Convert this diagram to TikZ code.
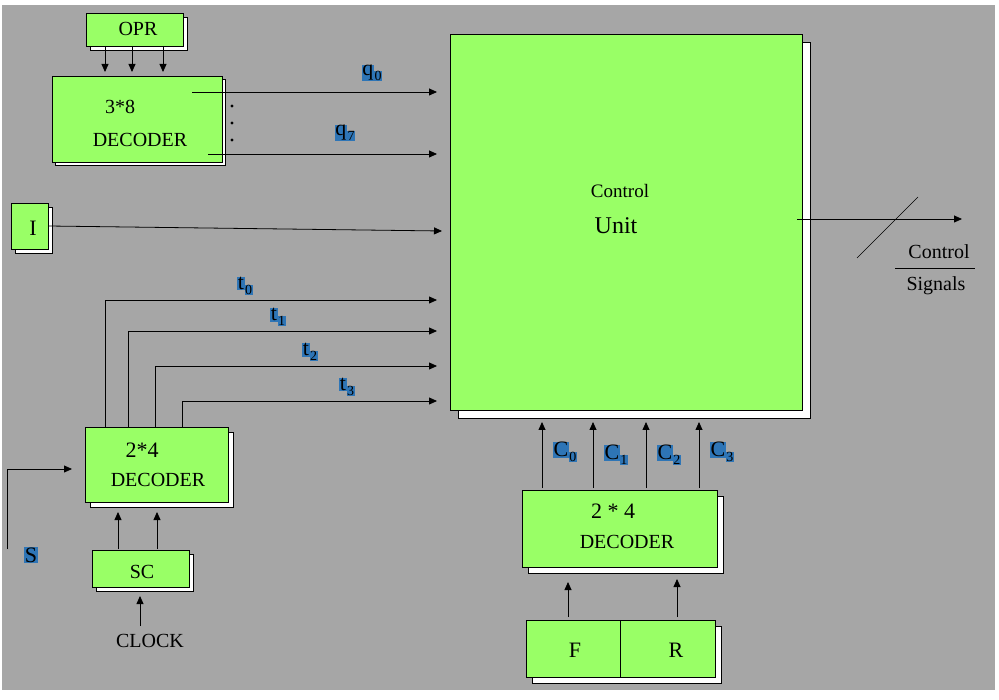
\documentclass[tikz,border=0pt]{standalone}
\usepackage{fontspec}
\setmainfont{Liberation Serif}
\usetikzlibrary{shadows, arrows.meta}
\definecolor{boxgreen}{HTML}{99FF66}
\definecolor{bggray}{HTML}{A6A6A6}
\definecolor{hlblue}{HTML}{2E75B6}
\newcommand{\hl}[1]{{\setlength\fboxsep{0.6pt}\colorbox{hlblue}{#1}}}
\newcommand{\sublabel}[2]{\hl{#1}\raisebox{-5pt}{\hl{\fontsize{14}{14}\selectfont #2}}}
\begin{document}
\begin{tikzpicture}[
    x=1pt, y=-1pt,
    block/.style={
        rectangle,
        draw, thick,
        fill=boxgreen,
        inner sep=0pt,
        copy shadow={shadow xshift=#1, shadow yshift=-#1, fill=white, draw=black, thick}
    },
    block/.default=5pt,
    arrow/.style={-{Triangle[length=8pt,width=7pt]}, thick},
    txt/.style={font=\fontsize{20}{22}\selectfont, inner sep=0pt},
    lbl/.style={font=\fontsize{22}{22}\selectfont, inner sep=0pt}
]
    \useasboundingbox (0,0) rectangle (999,700);
    \fill[bggray] (2,5) rectangle (995,690);

    % boxes
    \node[block=4pt, minimum width=97pt, minimum height=33pt] (opr) at (134.5,29.5) {};
    \node[block=3pt, minimum width=170pt, minimum height=86pt] (dec38) at (137,119) {};
    \node[block=4pt, minimum width=37pt, minimum height=46pt] (ireg) at (29.5,226) {};
    \node[block=8pt, minimum width=352pt, minimum height=376pt] (cu) at (626,222) {};
    \node[block=5pt, minimum width=143pt, minimum height=75pt] (dec24) at (156.5,464.5) {};
    \node[block=4pt, minimum width=97pt, minimum height=37pt] (sc) at (140.5,568.5) {};
    \node[block=6pt, minimum width=195pt, minimum height=77pt] (decc) at (619.5,528.5) {};
    \node[block=6pt, minimum width=189pt, minimum height=57pt] (fr) at (620.5,648.5) {};
    \draw[thick] (620,620) -- (620,677);

    % texts
    \node[txt] at (138,29) {OPR};
    \node[txt] at (120,107) {3*8};
    \node[txt] at (140,140) {DECODER};
    \node[lbl] at (33,228) {I};
    \node[font=\fontsize{19}{19}\selectfont] at (620,191) {Control};
    \node[font=\fontsize{24}{24}\selectfont] at (616,226) {Unit};
    \node[lbl] at (142,450) {2*4};
    \node[txt] at (158,480) {DECODER};
    \node[txt] at (142,572) {SC};
    \node[txt] (clock) at (150,641) {CLOCK};
    \node[lbl] at (613,511) {2 * 4};
    \node[txt] at (627,542) {DECODER};
    \node[lbl] at (575,650) {F};
    \node[lbl] at (676,650) {R};
    \node[txt] at (939,252) {Control};
    \node[txt] at (936,286) {Signals};
    \draw (895,268) -- (975,268);

    % q lines
    \coordinate (q0s) at (192,92);
    \coordinate (q7s) at (208,154);
    \draw[arrow] (q0s) -- (437,92);
    \draw[arrow] (q7s) -- (437,154);
    \foreach \y in {106,123,140} \fill (232,\y) circle (1.6pt);
    \node[lbl] at (372,73) {\sublabel{q}{0}};
    \node[lbl] at (345,133) {\sublabel{q}{7}};

    % opr to decoder
    \foreach \x in {105,132,163} \draw[arrow] (\x,46) -- (\x,72);

    % I line
    \draw[arrow] (ireg.east) -- (442,231);

    % t lines
    \draw[arrow] (105,427) -- (105,300) -- (437,300);
    \draw[arrow] (128,427) -- (128,331) -- (437,331);
    \draw[arrow] (155,427) -- (155,366) -- (437,366);
    \draw[arrow] (182,427) -- (182,401) -- (437,401);
    \node[lbl] at (245,286) {\sublabel{t}{0}};
    \node[lbl] at (278,317) {\sublabel{t}{1}};
    \node[lbl] at (310,352) {\sublabel{t}{2}};
    \node[lbl] at (347,387) {\sublabel{t}{3}};

    % S input
    \draw[arrow] (7,549) -- (7,469) -- (72,469);
    \node[lbl] at (31,555) {\hl{S}};

    % SC to decoder, clock
    \foreach \x in {118,157} \draw[arrow] (\x,549) -- (\x,512);
    \draw[arrow] (140,626) -- (140,596);

    % C lines
    \foreach \x/\n/\yy in {542/0/452, 593/1/455, 646/2/455, 699/3/452} {
        \draw[arrow] (\x,488) -- (\x,422);
        \node[lbl] at (\x+23,\yy) {\sublabel{C}{\n}};
    }

    % F R to decoder
    \draw[arrow] (568,617) -- (568,582);
    \draw[arrow] (677,617) -- (677,579);

    % output
    \draw[arrow] (797,219) -- (962,219);
    \draw (857,258) -- (918,197);
\end{tikzpicture}
\end{document}
